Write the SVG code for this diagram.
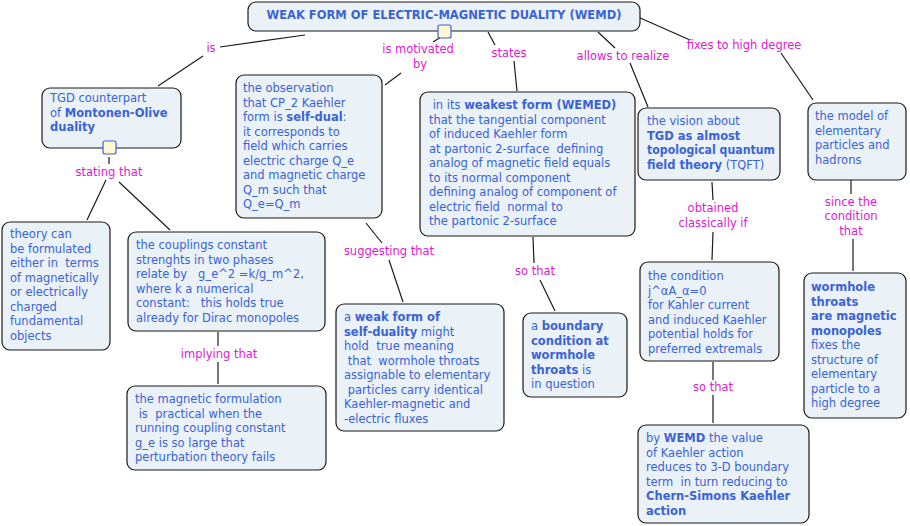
<svg xmlns="http://www.w3.org/2000/svg" width="910" height="526" viewBox="0 0 910 526">
<style>
.n{fill:#eaf1f7;stroke:#1a1a1a;stroke-width:1.2}
.t{font-family:"DejaVu Sans",Verdana,sans-serif;font-size:11.5px;fill:#3a63d6;white-space:pre}
.b{font-weight:bold}
.l{font-family:"DejaVu Sans",Verdana,sans-serif;font-size:11.5px;fill:#e01ad0;text-anchor:middle}
.c line{stroke:#1a1a1a;stroke-width:1.2}
.ic{fill:#fff8d0;stroke:#3a63d6;stroke-width:1.2}
</style>
<rect width="910" height="526" fill="#fff"/>
<g class="c">
<line x1="305" y1="35" x2="220" y2="47"/><line x1="203" y1="56" x2="158" y2="86"/>
<line x1="441" y1="37" x2="433" y2="42"/><line x1="401" y1="73" x2="385" y2="85"/>
<line x1="488" y1="32" x2="495" y2="45"/><line x1="514" y1="61" x2="517" y2="91"/>
<line x1="598" y1="32" x2="615" y2="48"/><line x1="630" y1="63" x2="648" y2="107"/>
<line x1="638" y1="17" x2="690" y2="40"/><line x1="781" y1="53" x2="813" y2="100"/>
<line x1="109" y1="157" x2="109" y2="164"/><line x1="106" y1="180" x2="87" y2="220"/><line x1="119" y1="182" x2="170" y2="230"/>
<line x1="366" y1="223" x2="382" y2="243"/><line x1="389" y1="260" x2="403" y2="302"/>
<line x1="533" y1="237" x2="534" y2="263"/><line x1="540" y1="280" x2="555" y2="311"/>
<line x1="712" y1="182" x2="713" y2="200"/><line x1="713" y1="232" x2="712" y2="260"/>
<line x1="851" y1="178" x2="851" y2="194"/><line x1="853" y1="239" x2="853" y2="271"/>
<line x1="218" y1="332" x2="218" y2="346"/><line x1="218" y1="362" x2="218" y2="384"/>
<line x1="713" y1="362" x2="713" y2="380"/><line x1="713" y1="395" x2="713" y2="423"/>
</g>
<g class="lbl">
<text class="l" x="211" y="52">is</text>
<text class="l" x="418" y="53">is motivated</text><text class="l" x="420" y="68">by</text>
<text class="l" x="509" y="57">states</text>
<text class="l" x="623" y="60">allows to realize</text>
<text class="l" x="744" y="49">fixes to high degree</text>
<text class="l" x="109" y="176">stating that</text>
<text class="l" x="389" y="255">suggesting that</text>
<text class="l" x="535" y="275">so that</text>
<text class="l" x="713" y="212">obtained</text><text class="l" x="713" y="227">classically if</text>
<text class="l" x="851" y="206">since the</text><text class="l" x="851" y="220">condition</text><text class="l" x="851" y="235">that</text>
<text class="l" x="219" y="358">implying that</text>
<text class="l" x="713" y="391">so that</text>
</g>
<g id="title"><rect class="n" x="248" y="2" width="392" height="29" rx="8"/>
<text class="t b" x="444" y="19" text-anchor="middle">WEAK FORM OF ELECTRIC-MAGNETIC DUALITY (WEMD)</text>
<rect class="ic" x="438" y="25" width="13" height="13" rx="2"/></g>
<g id="tgd"><rect class="n" x="42" y="88" width="139" height="60" rx="8"/>
<text class="t" x="50" y="102">TGD counterpart</text>
<text class="t" x="50" y="117">of <tspan class="b">Montonen-Olive</tspan></text>
<text class="t b" x="50" y="131">duality</text>
<rect class="ic" x="103" y="141" width="13" height="13" rx="2"/></g>
<g id="obs"><rect class="n" x="236" y="75" width="146" height="143" rx="8"/>
<text class="t" x="243" y="92">the observation</text>
<text class="t" x="243" y="106.5">that CP_2 Kaehler</text>
<text class="t" x="243" y="121">form is <tspan class="b">self-dual</tspan>:</text>
<text class="t" x="243" y="135.5">it corresponds to</text>
<text class="t" x="243" y="150">field which carries</text>
<text class="t" x="243" y="164.5">electric charge Q_e</text>
<text class="t" x="243" y="179">and magnetic charge</text>
<text class="t" x="243" y="193.5">Q_m such that</text>
<text class="t" x="243" y="208">Q_e=Q_m</text></g>
<g id="wemed"><rect class="n" x="420" y="92" width="215" height="144" rx="8"/>
<text class="t" x="429" y="109"> in its <tspan class="b">weakest form (WEMED)</tspan></text>
<text class="t" x="429" y="123.5">that the tangential component</text>
<text class="t" x="429" y="138">of induced Kaehler form</text>
<text class="t" x="429" y="152.5">at partonic 2-surface  defining</text>
<text class="t" x="429" y="167">analog of magnetic field equals</text>
<text class="t" x="429" y="181.5">to its normal component</text>
<text class="t" x="429" y="196">defining analog of component of</text>
<text class="t" x="429" y="210.5">electric field  normal to</text>
<text class="t" x="429" y="225">the partonic 2-surface</text></g>
<g id="tqft"><rect class="n" x="638" y="108" width="142" height="72" rx="8"/>
<text class="t" x="647" y="125">the vision about</text>
<text class="t b" x="647" y="139.5">TGD as almost</text>
<text class="t b" x="647" y="154" textLength="128" lengthAdjust="spacingAndGlyphs">topological quantum</text>
<text class="t" x="647" y="168.5"><tspan class="b">field theory</tspan> (TQFT)</text></g>
<g id="model"><rect class="n" x="808" y="103" width="98" height="77" rx="8"/>
<text class="t" x="815" y="120">the model of</text>
<text class="t" x="815" y="134.5">elementary</text>
<text class="t" x="815" y="149">particles and</text>
<text class="t" x="815" y="163.5">hadrons</text></g>
<g id="theory"><rect class="n" x="2" y="222" width="108" height="128" rx="8"/>
<text class="t" x="10" y="238">theory can</text>
<text class="t" x="10" y="252.5">be formulated</text>
<text class="t" x="10" y="267">either in  terms</text>
<text class="t" x="10" y="281.5">of magnetically</text>
<text class="t" x="10" y="296">or electrically</text>
<text class="t" x="10" y="310.5">charged</text>
<text class="t" x="10" y="325">fundamental</text>
<text class="t" x="10" y="339.5">objects</text></g>
<g id="coupl"><rect class="n" x="128" y="232" width="197" height="99" rx="8"/>
<text class="t" x="136" y="249">the couplings constant</text>
<text class="t" x="136" y="263.5">strenghts in two phases</text>
<text class="t" x="136" y="278">relate by   g_e^2 =k/g_m^2,</text>
<text class="t" x="136" y="292.5">where k a numerical</text>
<text class="t" x="136" y="307">constant:   this holds true</text>
<text class="t" x="136" y="321.5">already for Dirac monopoles</text></g>
<g id="weak"><rect class="n" x="336" y="304" width="168" height="127" rx="8"/>
<text class="t" x="344" y="321">a <tspan class="b">weak form of</tspan></text>
<text class="t" x="344" y="335.5"><tspan class="b">self-duality</tspan> might</text>
<text class="t" x="344" y="350">hold  true meaning</text>
<text class="t" x="344" y="364.5"> that  wormhole throats</text>
<text class="t" x="344" y="379">assignable to elementary</text>
<text class="t" x="344" y="393.5"> particles carry identical</text>
<text class="t" x="344" y="408">Kaehler-magnetic and</text>
<text class="t" x="344" y="422.5">-electric fluxes</text></g>
<g id="bound"><rect class="n" x="523" y="313" width="104" height="84" rx="8"/>
<text class="t" x="531" y="330">a <tspan class="b">boundary</tspan></text>
<text class="t b" x="531" y="344.5">condition at</text>
<text class="t b" x="531" y="359">wormhole</text>
<text class="t" x="531" y="373.5"><tspan class="b">throats</tspan> is</text>
<text class="t" x="531" y="388">in question</text></g>
<g id="cond"><rect class="n" x="640" y="262" width="139" height="99" rx="8"/>
<text class="t" x="648" y="280">the condition</text>
<text class="t" x="648" y="294.5">j^αA_α=0</text>
<text class="t" x="648" y="309">for Kahler current</text>
<text class="t" x="648" y="323.5">and induced Kaehler</text>
<text class="t" x="648" y="338">potential holds for</text>
<text class="t" x="648" y="352.5">preferred extremals</text></g>
<g id="worm"><rect class="n" x="804" y="273" width="102" height="145" rx="8"/>
<text class="t b" x="811" y="291">wormhole</text>
<text class="t b" x="811" y="305.5">throats</text>
<text class="t b" x="811" y="320">are magnetic</text>
<text class="t b" x="811" y="334.5">monopoles</text>
<text class="t" x="811" y="349">fixes the</text>
<text class="t" x="811" y="363.5">structure of</text>
<text class="t" x="811" y="378">elementary</text>
<text class="t" x="811" y="392.5">particle to a</text>
<text class="t" x="811" y="407">high degree</text></g>
<g id="magn"><rect class="n" x="127" y="386" width="199" height="84" rx="8"/>
<text class="t" x="135" y="403">the magnetic formulation</text>
<text class="t" x="135" y="417.5"> is  practical when the</text>
<text class="t" x="135" y="432">running coupling constant</text>
<text class="t" x="135" y="446.5">g_e is so large that</text>
<text class="t" x="135" y="461">perturbation theory fails</text></g>
<g id="wemd"><rect class="n" x="638" y="425" width="171" height="98" rx="8"/>
<text class="t" x="646" y="442">by <tspan class="b">WEMD</tspan> the value</text>
<text class="t" x="646" y="456.5">of Kaehler action</text>
<text class="t" x="646" y="471">reduces to 3-D boundary</text>
<text class="t" x="646" y="485.5">term  in turn reducing to</text>
<text class="t b" x="646" y="500">Chern-Simons Kaehler</text>
<text class="t b" x="646" y="514.5">action</text></g>
</svg>
